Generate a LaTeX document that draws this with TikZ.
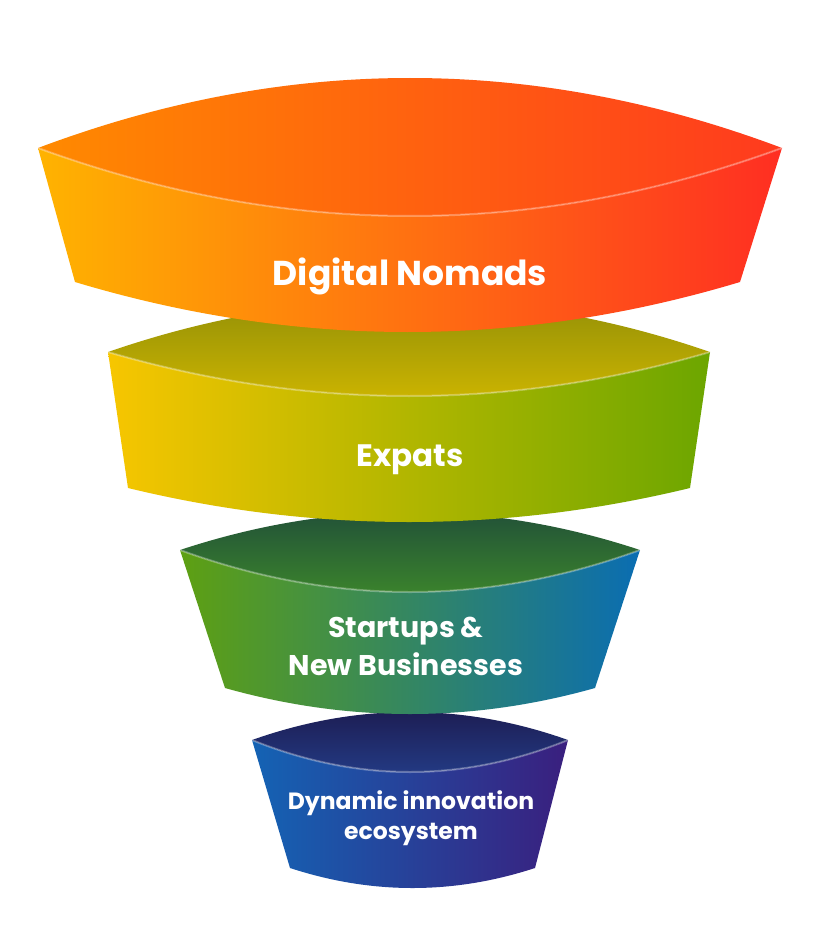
\documentclass[tikz,border=0pt]{standalone}
\usepackage{fontspec}
\setmainfont{Poppins}
\usetikzlibrary{calc}
\definecolor{c1l}{HTML}{FFB300}\definecolor{c1r}{HTML}{FF2E22}
\definecolor{t1l}{HTML}{FF8A00}\definecolor{t1r}{HTML}{FF3A1E}
\definecolor{c2l}{HTML}{F7C600}\definecolor{c2r}{HTML}{6CA600}
\definecolor{t2t}{HTML}{8A8A08}\definecolor{t2b}{HTML}{D2B800}
\definecolor{c3l}{HTML}{5EA012}\definecolor{c3r}{HTML}{0A6DB2}
\definecolor{t3t}{HTML}{1E4A3A}\definecolor{t3b}{HTML}{3E8A2A}
\definecolor{c4l}{HTML}{1463B4}\definecolor{c4r}{HTML}{3A1F7E}
\definecolor{t4t}{HTML}{1C1A4E}\definecolor{t4b}{HTML}{243E8A}
% #1 xl #2 xr #3 ytop #4 apex #5 frontmid #6 xbl #7 xbr #8 ybot #9 botmid
\newcommand{\flayer}[9]{%
 \pgfmathsetmacro{\xm}{(#1+#2)/2}%
 \pgfmathsetmacro{\cxa}{#1+2/3*(\xm-#1)}\pgfmathsetmacro{\cxb}{#2-2/3*(#2-\xm)}%
 \pgfmathsetmacro{\cya}{#3+2/3*(2*#4-#3-#3)}%
 \pgfmathsetmacro{\cyf}{#3+2/3*(2*#5-#3-#3)}%
 \pgfmathsetmacro{\xbm}{(#6+#7)/2}%
 \pgfmathsetmacro{\bxa}{#6+2/3*(\xbm-#6)}\pgfmathsetmacro{\bxb}{#7-2/3*(#7-\xbm)}%
 \pgfmathsetmacro{\cyb}{#8+2/3*(2*#9-#8-#8)}%
 \path[body] (#1,#3) .. controls (\cxa,\cyf) and (\cxb,\cyf) .. (#2,#3) -- (#7,#8)
   .. controls (\bxb,\cyb) and (\bxa,\cyb) .. (#6,#8) -- cycle;
 \path[topface] (#1,#3) .. controls (\cxa,\cya) and (\cxb,\cya) .. (#2,#3)
   .. controls (\cxb,\cyf) and (\cxa,\cyf) .. (#1,#3) -- cycle;
 \draw[white,opacity=.3,line width=2pt] (#1,#3) .. controls (\cxa,\cyf) and (\cxb,\cyf) .. (#2,#3);
}
\begin{document}
\begin{tikzpicture}[x=1pt,y=-1pt,
  lbl/.style={text=white,align=center}]
\useasboundingbox[fill=white] (0,0) rectangle (836,936);
% layer 4
\tikzset{body/.style={left color=c4l,right color=c4r},
  topface/.style={top color=t4t,bottom color=t4b}}
\flayer{252}{568}{740}{712}{772}{290}{535}{868}{888}
\node[lbl,font=\bfseries\fontsize{23.5}{30}\selectfont] (d) at (411,818) {Dynamic innovation\\ecosystem};
% layer 3
\tikzset{body/.style={left color=c3l,right color=c3r},
  topface/.style={top color=t3t,bottom color=t3b}}
\flayer{180}{640}{550}{512}{592}{225}{595}{688}{714}
\node[lbl,font=\bfseries\fontsize{28.5}{38}\selectfont] (s) at (406,646) {Startups \&\\New Businesses};
% layer 2
\tikzset{body/.style={left color=c2l,right color=c2r},
  topface/.style={top color=t2t,bottom color=t2b}}
\flayer{108}{710}{352}{300}{396}{128}{690}{488}{522}
\node[lbl,font=\bfseries\fontsize{31}{36}\selectfont] (e) at (410,460) {Expats};
% layer 1
\tikzset{body/.style={left color=c1l,right color=c1r},
  topface/.style={left color=t1l,right color=t1r}}
\flayer{38}{782}{148}{78}{216}{75}{740}{282}{332}
\node[lbl,font=\bfseries\fontsize{34.5}{40}\selectfont] (n) at (410,276) {Digital Nomads};
\end{tikzpicture}
\end{document}
